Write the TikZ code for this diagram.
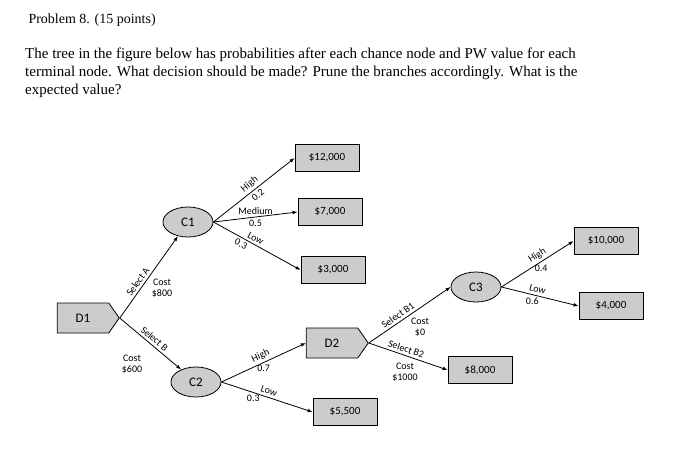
\documentclass[tikz,border=0pt]{standalone}
\usepackage{fontspec}
\setmainfont{Liberation Serif}
\newfontfamily\diag{Carlito}
\usetikzlibrary{shapes.symbols,shapes.geometric,arrows.meta}
\begin{document}
\begin{tikzpicture}[x=1pt,y=-1pt,
  box/.style={draw,thick,fill=gray!40,minimum width=64pt,minimum height=27pt,font=\diag\fontsize{11}{12}\selectfont},
  chance/.style={draw,thick,fill=gray!40,ellipse,minimum width=50pt,minimum height=30pt,font=\diag\fontsize{13}{14}\selectfont},
  dec/.style={draw,thick,fill=gray!40,signal,signal to=east,signal pointer angle=110,minimum width=62pt,minimum height=30pt,font=\diag\fontsize{13}{14}\selectfont},
  br/.style={-{Latex[length=5pt]},thick},
  lab/.style={font=\diag\fontsize{10}{11}\selectfont,inner sep=2.5pt}]
\useasboundingbox (0,0) rectangle (700,450);
\node[anchor=west,font=\fontsize{14}{16}\selectfont] at (25,20) {Problem 8. (15 points)};
\node[anchor=north west,align=left,font=\fontsize{15}{18}\selectfont,inner sep=0pt] at (25,48)
 {The tree in the figure below has probabilities after each chance node and PW value for each\\terminal node. What decision should be made? Prune the branches accordingly. What is the\\expected value?};
\node[dec] (d1) at (83,318) {D1};
\node[chance] (c1) at (188,222) {C1};
\node[chance] (c2) at (196,382) {C2};
\node[box] (v12) at (327,158) {\$12,000};
\node[box] (v7) at (330,212) {\$7,000};
\node[box] (v3) at (333,270) {\$3,000};
\node[dec] (d2) at (332,343) {D2};
\node[box] (v55) at (345,412) {\$5,500};
\node[chance] (c3) at (476,287) {C3};
\node[box] (v10) at (606,241) {\$10,000};
\node[box] (v4) at (611,306) {\$4,000};
\node[box] (v8) at (480,370) {\$8,000};
\draw[br] (d1.east) -- node[lab,sloped,above,pos=0.4]{Select A} (c1);
\node[lab,align=center] (ca) at (162,288) {Cost\\\$800};
\draw[br] (d1.east) -- node[lab,sloped,above,pos=0.5]{Select B} (c2);
\node[lab,align=center] (cb) at (132,364) {Cost\\\$600};
\draw[br] (c1.east) -- node[lab,sloped,above,pos=0.5]{High} node[lab,sloped,below,pos=0.5]{0.2} (v12.west);
\draw[br] (c1.east) -- node[lab,above,pos=0.5]{Medium} node[lab,below,pos=0.5]{0.5} (v7.west);
\draw[br] (c1.east) -- node[lab,sloped,above,pos=0.45]{Low} node[lab,sloped,below,pos=0.35]{0.3} (v3.west);
\draw[br] (c2.east) -- node[lab,sloped,above,pos=0.5]{High} node[lab,below,pos=0.5]{0.7} (d2.west);
\draw[br] (c2.east) -- node[lab,sloped,above,pos=0.5]{Low} node[lab,below,pos=0.35]{0.3} (v55.west);
\draw[br] (d2.east) -- node[lab,sloped,above,pos=0.4]{Select B1} (c3.west);
\node[lab,align=center] (cb1) at (420,327) {Cost\\\$0};
\draw[br] (d2.east) -- node[lab,sloped,above,pos=0.45]{Select B2} (v8.west);
\node[lab,align=center] (cb2) at (405,372) {Cost\\\$1000};
\draw[br] (c3.east) -- node[lab,sloped,above,pos=0.55]{High} node[lab,below,pos=0.55]{0.4} (v10.west);
\draw[br] (c3.east) -- node[lab,sloped,above,pos=0.45]{Low} node[lab,below,pos=0.4]{0.6} (v4.west);
\end{tikzpicture}
\end{document}
